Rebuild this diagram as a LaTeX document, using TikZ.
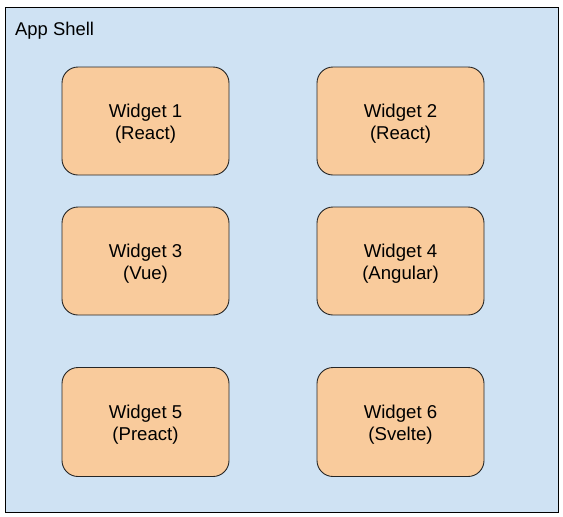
\documentclass[tikz,border=0pt]{standalone}
\usepackage{fontspec}
\setmainfont{Liberation Sans}
\definecolor{shellblue}{HTML}{CFE2F3}
\definecolor{widgetorange}{HTML}{F9CB9C}
\newcommand{\topstrut}{\rule{0pt}{19pt}}
\begin{document}
\begin{tikzpicture}[x=1pt,y=-1pt,
  widget/.style={draw=black!85, line width=0.9pt, fill=widgetorange, rounded corners=16pt,
    minimum width=167pt, minimum height=108pt, align=center, inner sep=0pt,
    font=\fontsize{18.6}{22}\selectfont},
  shell/.style={draw=black, line width=1pt, fill=shellblue}]
\useasboundingbox (0,0) rectangle (563,517);
\fill[white] (0,0) rectangle (563,517);
\draw[shell] (5,7) rectangle (558,512);
\node[anchor=base west, font=\fontsize{18.4}{22}\selectfont, inner sep=0pt] (title) at (15,35) {App Shell};
\node[widget] (w1) at (145.5,121) {\topstrut Widget 1\\(React)};
\node[widget] (w2) at (400.5,121) {\topstrut Widget 2\\(React)};
\node[widget] (w3) at (145.5,261) {\topstrut Widget 3\\(Vue)};
\node[widget] (w4) at (400.5,261) {\topstrut Widget 4\\(Angular)};
\node[widget, minimum height=109pt] (w5) at (145.5,422) {\topstrut Widget 5\\(Preact)};
\node[widget, minimum height=109pt] (w6) at (400.5,422) {\topstrut Widget 6\\(Svelte)};
\end{tikzpicture}
\end{document}
